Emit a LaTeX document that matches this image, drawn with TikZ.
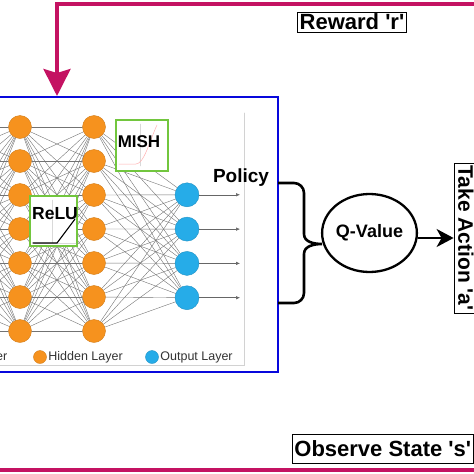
\documentclass[tikz,border=0pt]{standalone}
\usepackage{fontspec}
\setmainfont{Liberation Sans}
\usepackage{xcolor}
\definecolor{mymagenta}{RGB}{196,18,98}
\definecolor{myblue}{RGB}{8,8,220}
\definecolor{mygreen}{RGB}{114,198,62}
\definecolor{myorange}{RGB}{246,146,30}
\definecolor{mycyan}{RGB}{38,172,232}
\usetikzlibrary{arrows.meta,shapes.geometric}

\newcommand{\fs}[1]{\fontsize{#1}{#1}\selectfont}
\newcommand{\q}{\textquotesingle}

\begin{document}
\begin{tikzpicture}[x=1pt,y=-1pt,line cap=round]
	\tikzstyle{hid}=[circle,draw=myorange!85!black,fill=myorange,minimum size=23pt,inner sep=0pt,line width=.4pt];
	\tikzstyle{outp}=[circle,draw=mycyan!85!black,fill=mycyan,minimum size=24pt,inner sep=0pt,line width=.4pt];
	\tikzstyle{wire}=[black!55,line width=.4pt];
	\tikzstyle{fnbox}=[draw=mygreen,fill=white,line width=2.6pt,inner sep=0pt];
	\tikzstyle{tag}=[draw,line width=.8pt,font=\bfseries\fs{22},inner xsep=2pt,inner ysep=2pt];
	\tikzstyle{legtext}=[anchor=west,inner sep=1.5pt,text=black!80,font=\fs{12.5}];
	\tikzstyle{feedback}=[draw=mymagenta,line width=3.5pt,line cap=butt,-{Stealth[length=27pt,width=27pt,inset=4pt]}];
	\useasboundingbox (0,0) rectangle (474,474);
	% network
	\foreach \k in {1,...,7} {
		\node[hid] (in\k) at (-60,93+34*\k) {};
		\node[hid] (ha\k) at (20,93+34*\k) {};
		\node[hid] (hb\k) at (94,93+34*\k) {};
	}
	\foreach \k in {1,...,4}
		\node[outp] (out\k) at (187,160.5+34.3*\k) {};
	\foreach \i in {1,...,7} {
		\foreach \j in {1,...,7} {
			\draw[wire] (in\i) -- (ha\j);
			\draw[wire] (ha\i) -- (hb\j);
		}
		\foreach \j in {1,...,4}
			\draw[wire] (hb\i) -- (out\j);
	}
	\foreach \k in {1,...,4} {
		\coordinate (pol\k) at (240,160.5+34.3*\k);
		\draw[black!60,line width=.5pt,-{Latex[length=4pt,width=3.5pt]}] (out\k) -- (pol\k);
	}
	\draw[gray!35,line width=.6pt] (244,113) -- (244,365) -- (-10,365);
	% legend
	\node[legtext,anchor=east] (lgi) at (9,357) {Input Layer};
	\node[hid,minimum size=13pt] (lgh) at (40,357) {};
	\node[legtext] at (lgh.east) {Hidden Layer};
	\node[outp,minimum size=13pt] (lgo) at (152,357) {};
	\node[legtext] at (lgo.east) {Output Layer};
	% activation boxes
	\node[fnbox,minimum width=47pt,minimum height=50pt] (relu) at (53.5,221) {};
	\draw[gray!30,line width=.4pt] (52,200) -- (52,244) (34,243) -- (76,243);
	\draw[line width=1.1pt] (33,243) -- (57,243) -- (75,219);
	\node[font=\bfseries\fs{17.5},inner sep=0pt] at (55,214) {ReLU};
	\node[fnbox,minimum width=52pt,minimum height=51pt] (mish) at (142,145.5) {};
	\draw[gray!30,line width=.4pt] (140,124) -- (140,166);
	\draw[red!30,line width=.5pt] (119,164) -- (136,164) .. controls (144,164) and (150,140) .. (157,125);
	\node[font=\bfseries\fs{17},inner sep=0pt] at (139,142) {MISH};
	% frame round the network
	\node[draw=myblue,line width=2.8pt,minimum width=288pt,minimum height=275pt] (net) at (134,234.5) {};
	\node[font=\bfseries\fs{19},anchor=base] (policy) at (241,182) {Policy};
	% brace
	\draw[line width=2.6pt,line cap=butt] (278,183) -- (294,183) to[out=0,in=90] (304,193) -- (304,234)
		to[out=-90,in=180] (322,244) to[out=180,in=90] (304,254) -- (304,293) to[out=-90,in=0] (294,303) -- (278,303);
	\node[ellipse,draw,line width=2.3pt,minimum width=85pt,minimum height=78pt,inner sep=0pt,font=\bfseries\fs{18}] (qval) at (369.5,233) {Q-Value};
	\node[tag,rotate=-90,font=\bfseries\fs{21},minimum height=24pt,minimum width=150pt] (act) at (466,238) {Take Action \q a\q};
	\draw[line width=2pt,-{Stealth[length=17pt,width=18pt,inset=5pt]}] (qval.east |- act.south) -- (act.south);
	% tags
	\node[tag] (reward) at (352,22) {Reward \q r\q};
	\node[tag,anchor=west,minimum height=29pt] (observe) at (292,448.5) {Observe State \q s\q};
	% loop
	\coordinate (loopL) at (-20,470);
	\coordinate (loopR) at (495,4);
	\coordinate (netin) at (57,96);
	\draw[feedback] (loopL) -| (loopR) -| (netin);
\end{tikzpicture}
\end{document}
